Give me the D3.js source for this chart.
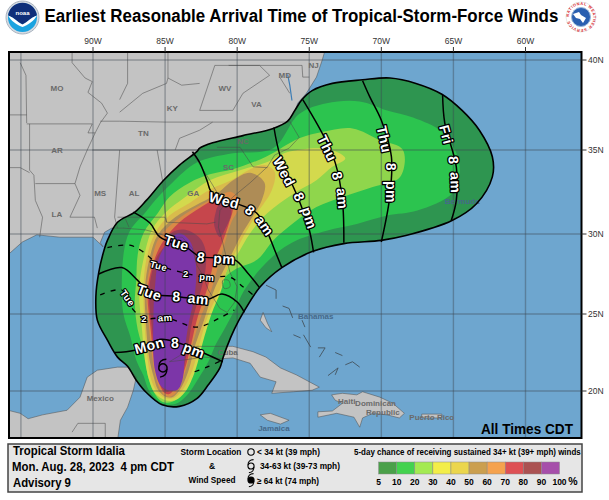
<!DOCTYPE html>
<html>
<head>
<meta charset="utf-8">
<title>Earliest Reasonable Arrival Time of Tropical-Storm-Force Winds</title>
<style>
html, body { margin: 0; padding: 0; background: #fff; }
svg { display: block; font-family: "Liberation Sans", Arial, sans-serif; }
</style>
<script src="https://cdn.jsdelivr.net/npm/d3@7/dist/d3.min.js"></script>
</head>
<body>
<script>
// values, everything is [lon, lat]
var lonGrid = [-95, -90, -85, -80, -75, -70, -65, -60];
var lonTicks = [-90, -85, -80, -75, -70, -65, -60];
var latTicks = [20, 25, 30, 35, 40];

var percentTicks = ['5', '10', '20', '30', '40', '50', '60', '70', '80', '90', '100'];
var legendColors = ['#4aa04a', '#43d24f', '#a4ea51', '#f3ee49', '#ebd64d', '#cb9f4f', '#f5a24e', '#de5054', '#ab5252', '#a64faa'];

// outer 5% edge of the swath
var swath05 = [[-82.8,34.9],[-84,34.1],[-85.1,33.2],[-86.3,32],[-87.1,31.3],[-88.3,30.7],[-89,29.6],[-89.2,29.1],[-89.6,27.6],[-89.8,26.1],[-89.7,24.6],[-89,23.3],[-88.3,22.2],[-87.6,21.6],[-87,20.7],[-86.3,19.9],[-85.2,19.1],[-84,19],[-82.8,19.5],[-82,20.4],[-81.2,21.5],[-81,22.1],[-80.7,22.9],[-80.2,24],[-79.6,25.05],[-78.4,26.7],[-76.9,27.9],[-74.8,28.9],[-72.6,29.4],[-70,29.6],[-68.3,29.9],[-65.1,30.8],[-63.4,31.8],[-62.3,33.4],[-62.3,34.6],[-63.2,36.1],[-64.4,37.2],[-65.8,38.1],[-67.6,38.7],[-69.4,39],[-71.3,38.9],[-73.4,38.7],[-74.8,38.3],[-75.5,37.8],[-76,37.2],[-76.5,36.6],[-77.5,36.2],[-79.6,35.8],[-81.7,35.4],[-82.6,35.1]];
var swath10 = [[-82.8,34.25],[-80.3,34.8],[-77.5,35.1],[-75.7,37],[-73.8,37.6],[-71.5,37.7],[-69.6,37.2],[-67.8,36.8],[-65.8,36],[-64.7,34.6],[-64.6,33.4],[-65.1,32.4],[-67.5,31.4],[-69.6,31.1],[-71.7,30.6],[-73.8,30.2],[-75.9,29.6],[-77,29],[-78.3,27.9],[-79.5,26.5],[-80.2,25.2],[-80.9,24],[-81.5,23],[-82,21.9],[-82.7,20.8],[-83.5,19.7],[-84.3,19.15],[-85.2,19.2],[-86.1,20],[-86.5,21],[-87,22],[-87.4,23.5],[-87.9,25.05],[-88,27.1],[-87.8,29.2],[-87.4,30.25],[-86.4,31.25],[-85.7,32],[-84.5,33.05]];
var swath20 = [[-83.3,33.05],[-81.9,33.55],[-80.3,33.85],[-78,34.6],[-75.7,35.65],[-74.1,36],[-72,36.2],[-70.1,35.55],[-68.5,35],[-68.7,33.4],[-70.6,32.8],[-72.7,32.2],[-74.5,31.6],[-76.1,30.65],[-77.5,29.6],[-78.6,28.4],[-80.2,27.75],[-81.2,26.95],[-81.7,25.9],[-82.2,24.3],[-82.9,22.7],[-83.1,21.35],[-83.8,19.85],[-84.5,19.3],[-85.2,19.3],[-85.8,19.95],[-86.2,21],[-86.4,22.35],[-86.9,24],[-87.1,25.7],[-87,27.1],[-86.9,28.7],[-86.5,30.05],[-85.5,31.25],[-84.7,32.2]];
var swath30 = [[-85.9,30.25],[-85,31.25],[-83.6,32.2],[-81.9,33.2],[-79.8,33.8],[-78,34.25],[-76.6,34.85],[-74.5,35.1],[-73.4,35],[-72.5,34.5],[-73.4,34],[-74.5,33.2],[-76.1,32.4],[-77.9,31.25],[-79.1,30.05],[-80,28.7],[-80.7,27.75],[-81.1,26.5],[-81.8,24.95],[-82.4,23.1],[-82.9,21.35],[-83.6,19.95],[-84.3,19.4],[-85,19.4],[-85.7,19.85],[-86.1,20.7],[-86.4,22],[-86.6,24],[-86.8,26.5],[-86.5,28.4]];
var swath40 = [[-85.7,30.05],[-84.7,31.1],[-83.3,31.85],[-81.9,32.65],[-80.3,33.25],[-79.1,33.85],[-78.1,34.1],[-77.4,33.7],[-77.6,32.6],[-78.6,31.25],[-79.5,29.95],[-80.2,28.7],[-80.7,27.75],[-81.2,26.5],[-82,24.95],[-82.6,23.1],[-83.1,21.35],[-83.8,20.05],[-84.4,19.55],[-85,19.55],[-85.6,20],[-86,20.85],[-86.2,22],[-86.4,24],[-86.5,26.5],[-86.3,28.4]];
var swath50 = [[-85.5,29.95],[-84.3,31],[-82.9,31.7],[-81.5,32.35],[-80.2,33.25],[-79.1,33.65],[-78.1,33.05],[-78.3,32],[-79.1,30.8],[-79.8,29.8],[-80.4,28.7],[-81.1,27.45],[-81.6,26.5],[-82.3,24.6],[-82.9,23],[-83.4,21.25],[-84,20.05],[-84.5,19.6],[-85,19.65],[-85.5,20.1],[-85.8,20.95],[-86.1,22.15],[-86.3,24],[-86.4,26.5],[-86.1,28.4]];
var swath60 = [[-85.4,29.8],[-84,30.95],[-82.6,31.7],[-81.3,32.25],[-80.4,32.5],[-79.8,31.75],[-80.4,30.7],[-80.9,29.3],[-81.3,28.05],[-81.8,26.5],[-82.6,24.6],[-83.1,23],[-83.6,21.25],[-84.1,20.05],[-84.6,19.65],[-85,19.7],[-85.4,20.2],[-85.7,21.1],[-85.9,22.25],[-86.1,24],[-86.3,26.5],[-85.9,28.5]];
var swath70 = [[-85.1,29.6],[-84,30.7],[-82.6,31.55],[-81.3,32.15],[-80.6,32.05],[-80.3,31.6],[-80.6,30.55],[-81.1,29.3],[-81.6,28.25],[-82,26.8],[-82.8,24.6],[-83.2,23],[-83.7,21.25],[-84.3,20.2],[-84.7,19.8],[-85,19.85],[-85.3,20.25],[-85.6,21.25],[-85.8,22.35],[-86,24],[-86.2,26.5],[-85.7,28.5]];
var swath80 = [[-85,29.3],[-84.5,30.1],[-83.6,30.25],[-82.6,29.75],[-82.2,29],[-82.2,27.75],[-82.6,26.2],[-83.1,24.6],[-83.4,23],[-83.8,21.25],[-84.4,20.35],[-84.8,19.95],[-85.2,20.2],[-85.5,21.25],[-85.7,22.35],[-85.9,24],[-86.1,26.5],[-85.6,28.5]];
var swath80Lobe = [[-81.3,31.7],[-80.6,31.85],[-80.4,31.3],[-80.8,30.35],[-81.2,29.8],[-81.6,30.55],[-81.5,31.25]];
var swath90 = [[-84,30.05],[-83.3,29.6],[-82.9,28.4],[-82.9,26.5],[-83.4,24.2],[-83.6,22.9],[-83.8,20.7],[-84.2,20.05],[-85.2,20.25],[-85.7,21.35],[-85.8,25.05],[-85.7,26.7],[-85.4,28.55],[-84.5,29.8]];

var bands = [
    {points: swath05, color: '#2e9550'},
    {points: swath10, color: '#2cc44f'},
    {points: swath20, color: '#8fd64c'},
    {points: swath30, color: '#d3d94d'},
    {points: swath40, color: '#d9bb4c'},
    {points: swath50, color: '#ae8c56'},
    {points: swath60, color: '#d98a46'},
    {points: swath70, color: '#c6464c'},
    {points: swath80, color: '#983d57'},
    {points: swath80Lobe, color: '#983d57'},
    {points: swath90, color: '#7c36a8'}
];

// arrival time lines
var solidLines = [
    [[-87.2,31.3],[-86.05,30.65],[-85.35,29.8],[-83.5,29.15],[-82.6,28.6],[-80.2,28.4],[-79.3,27.6],[-78.45,26.65]],
    [[-89.6,27.5],[-88,27.9],[-86.9,27.1],[-86.05,26.3],[-84.2,26.1],[-82.1,25.9],[-81.05,26.25],[-80,25.75],[-79.5,25.1]],
    [[-88.5,22.5],[-87.1,22.65],[-85.35,23.35],[-84,23.1],[-82.4,22.5],[-81,21.9]],
    [[-83.1,34.9],[-82.6,34.25],[-82.1,33.2],[-81.75,32.45],[-80.3,31.9],[-78.65,31.25],[-77.9,30.1],[-77.4,29],[-76.9,27.9]],
    [[-77.45,36.25],[-77,34.6],[-75.7,32],[-75,30.25],[-74.7,28.85]],
    [[-75.45,37.8],[-74.05,35.85],[-73.2,34.25],[-72.7,32],[-72.6,29.45]],
    [[-71.3,38.85],[-70.8,37.95],[-70,36.65],[-69.3,34.6],[-69.45,32],[-70,29.5]],
    [[-65.75,38.05],[-65.6,36.5],[-64.8,34],[-64.8,32],[-65.15,30.8]]
];
var dashedLines = [
    [[-89,29.15],[-87.45,29.3],[-86.55,28.9],[-85.35,28.05],[-83.6,27.55],[-82.1,27.3],[-80.5,27.3],[-79.6,26.7],[-78.9,26.2]],
    [[-89.5,26.2],[-88,26.5],[-87.6,25.75],[-86.55,24.75],[-84.9,24.75],[-82.8,24.15],[-81.2,24.75],[-80.2,25.25]],
    [[-82.95,21.25],[-82.1,21.55],[-81.05,22]]
];

var bigWords = [
    ['Tue',-84.2,29.45,18],['8',-82.5,28.55,8],['pm',-80.9,28.45,4],
    ['Tue',-86.1,26.35,20],['8',-84.2,26.1,2],['am',-82.7,25.95,6],
    ['Mon',-86.1,22.95,-15],['8',-84.3,23.1,0],['pm',-83,22.65,20],
    ['Wed',-80.9,32,15],['8',-79.1,31.4,40],['am',-78.1,30.5,55],
    ['Wed',-76.75,33.7,62],['8',-75.7,32.2,65],['pm',-75,30.95,72],
    ['Thu',-73.75,35.1,65],['8',-73.05,33.45,75],['am',-72.7,32.1,85],
    ['Thu',-69.8,35.6,78],['8',-69.35,34,90],['pm',-69.35,32.5,90],
    ['Fri',-65.5,35.85,75],['8',-65,34.4,85],['am',-64.85,33.05,88]
];
var smallWords = [
    ['Tue',-85.45,28,15],['2',-83.55,27.5,0],['pm',-82.1,27.3,5],
    ['Tue',-87.6,26,55],['2',-86.45,24.7,0],['am',-85,24.75,-3]
];

var stormCenter = [-85.15, 21.5];

// land
var usLand = [[-73.9,40.55],[-74.1,40],[-74.5,39.05],[-75.2,38.15],[-75.8,37.6],[-76,37.1],[-76.4,36.65],[-75.7,35.7],[-76.4,35.1],[-77.4,34.7],[-77.9,34],[-79.1,33.05],[-80.3,32.2],[-81.2,31.4],[-81.3,30.4],[-81,29.45],[-80.5,27.6],[-80,26.7],[-80.2,25.7],[-80.7,25.1],[-81.2,25.35],[-82,26.5],[-82.4,27.45],[-82.8,28.05],[-83.1,29.1],[-83.8,29.8],[-84.7,29.8],[-85.7,30.1],[-86.4,30.25],[-87.9,30.35],[-88.7,30.35],[-89.2,30.1],[-89.5,29.45],[-89.3,29.2],[-90,29.8],[-92.3,29.8],[-93.9,29.95],[-94.9,29.5],[-95.9,28.7],[-97,27.5],[-97,40.6]];
var mexico = [[-97,18.7],[-95.9,18.75],[-95.05,18.55],[-94.5,18.2],[-93.5,18.45],[-91.8,18.75],[-90.9,19.6],[-90.4,20.9],[-89.7,21.35],[-88.3,21.55],[-87.6,21.55],[-87,20.9],[-87.2,20.05],[-87.6,18.95],[-88.1,18.1],[-88.3,16.8],[-97,16.8]];
var cuba = [[-84.7,21.9],[-83.8,22.4],[-82.8,22.9],[-81,22.9],[-80.3,22.9],[-78.9,22.55],[-78,22.2],[-77,21.5],[-75.9,21.05],[-74.3,20.25],[-74.8,20.05],[-76.1,19.95],[-77.6,19.85],[-77.3,20.6],[-78.4,20.9],[-79.1,21.8],[-80.3,22.15],[-81,22.1],[-82.3,22.2],[-83.8,22]];
var hispaniola = [[-73.45,19.75],[-72.7,19.85],[-71.7,19.75],[-71.3,19.95],[-70.1,19.6],[-69.2,19.2],[-68.4,18.55],[-68.75,18.25],[-69.6,18.45],[-70.6,18.55],[-71.3,18.25],[-71.5,17.65],[-71.9,18.3],[-73.1,18.55],[-74.4,18.3],[-74.4,18.65],[-73.4,18.7],[-72.7,19.2],[-73.2,19.4]];
var jamaica = [[-78.4,18.45],[-77.7,18.55],[-76.4,18.1],[-77,17.85],[-77.9,18.1]];
var puertoRico = [[-67.2,18.5],[-65.8,18.5],[-65.8,18.25],[-67.2,18.25]];
var andros = [[-78.2,25.1],[-77.9,24.4],[-77.6,23.85],[-78,24.1],[-78.4,24.6]];
var landShapes = [usLand, mexico, cuba, hispaniola, jamaica, puertoRico, andros];

var stateBorders = [
    [[-95.05,39.85],[-94.65,39.15],[-94.6,36.5]],
    [[-95.8,36.95],[-94.6,36.95]],
    [[-94.6,36.45],[-90.05,36.45],[-90.35,35.95],[-89.85,35.95]],
    [[-91.45,40.4],[-91.45,39.85],[-90.55,39],[-90.05,38.8],[-90.35,38.2],[-89.4,37.6],[-89,37.05],[-89.5,36.5],[-89.85,35.95],[-90.4,35],[-90.9,34],[-91.25,33],[-90.9,32.3],[-91.6,31]],
    [[-94,33],[-91.25,33]],
    [[-91.6,31],[-89.9,31],[-89.7,30.35]],
    [[-94.4,36.45],[-94.4,33.8],[-94.1,33.5],[-94,32],[-93.5,31],[-93.7,29.8]],
    [[-95.8,33.95],[-95.05,33.95],[-94.4,33.65]],
    [[-88.15,35],[-88.5,31],[-88.3,30.35]],
    [[-90.05,35],[-82.7,35]],
    [[-89.5,36.6],[-88.15,36.6],[-84.9,36.55],[-83.8,36.55],[-81.7,36.55],[-76.4,36.55]],
    [[-85.55,35],[-85.15,33.05],[-85,31.4],[-84.9,30.7]],
    [[-88.3,31],[-87.8,31],[-87.5,30.4]],
    [[-87.8,31],[-85,31],[-84.9,30.7],[-82.1,30.6],[-81.5,30.7]],
    [[-83.15,34.9],[-81.9,33.2],[-81,31.9]],
    [[-81.4,35.15],[-79.8,35.15],[-78.9,34],[-77.9,33.95]],
    [[-88.15,37.1],[-86.55,38.15],[-84.9,38.7],[-84.8,39],[-83.85,38.6],[-82.6,38.7]],
    [[-87.6,40.4],[-87.6,38.7],[-88.15,37.8]],
    [[-84.8,40.4],[-84.8,39]],
    [[-84.3,35],[-84,35.65],[-82.6,36.1],[-81.7,36.55]],
    [[-82.6,37.2],[-81.55,39.7],[-80.6,39.7],[-78.45,39.7],[-77.75,39.15],[-79.6,38.15],[-80.3,37.2],[-82.6,37.2]],
    [[-80.6,39.7],[-75.85,39.7],[-75.5,39.7],[-75.45,39.05],[-75,39.05]],
    [[-77.05,39.05],[-76.35,38.15]],
    [[-91.45,17.33],[-91.05,17.9],[-89.15,17.9],[-89.15,16.8]]
];
var lake = [[-81,27.1],[-80.6,27.1],[-80.5,26.7],[-80.9,26.6]];
var bahamaStrings = [
    [[-78,26.8],[-77.3,26.5],[-77.3,25.95]],
    [[-76.85,25.5],[-76.4,25.35],[-76.15,24.75]],
    [[-75.5,24.6],[-75.3,24.15]],
    [[-76.1,23.65],[-75.6,23.45]],
    [[-75.4,23.65],[-74.9,22.85]],
    [[-74.4,22.8],[-73.9,22.8],[-74.3,22.2]],
    [[-73.2,22.5],[-72.7,22.3]],
    [[-73.7,21],[-73,21.5],[-73.2,21.05]],
    [[-72.5,21.7],[-72,21.9],[-71.5,21.55]]
];
var chesapeake = [[-76.5,39.2],[-76.35,38.6],[-76.2,37.75]];

var stateNames = [['MO',-92.5,38.45],['AR',-92.5,35],['KY',-84.5,37.3],['TN',-86.5,35.95],['MS',-89.5,32.4],['AL',-87.15,32.4],['LA',-92.5,31.2],['GA',-83.05,32.45],['SC',-80.6,34],['NC',-79.6,35.5],['VA',-78.65,37.55],['WV',-80.85,38.45],['NJ',-74.7,39.7],['MD',-76.7,39.15],['Mexico',-89.5,19.55],['Cuba',-80.65,22.55],['Haiti',-72.4,19.35],['Dominican',-70.4,19.2],['Republic',-69.9,18.65],['Puerto Rico',-66.5,18.3]];
var seaNames = [['Bahamas',-74.55,24.85],['Jamaica',-77.45,17.6],['Bermuda',-64.4,31.95]];

var width = 609, height = 500;
var map = {left: 9, right: 581.5, top: 52, bottom: 438};

var x = d3.scaleLinear().domain([-90, -60]).range([93, 525.5]);
var y = d3.scaleLinear().domain(latTicks).range([391, 314, 234, 150, 60]);

var svg = d3.select('body').append('svg')
    .attr('width', width)
    .attr('height', height);

function project(p) {
    return [x(p[0]), y(p[1])];
}
var closedLine = d3.line().curve(d3.curveCatmullRomClosed.alpha(0.5));
var openLine = d3.line().curve(d3.curveCatmullRom.alpha(0.5));
var straight = d3.line();
function closedPath(points) { return closedLine(points.map(project)); }
function openPath(points) { return openLine(points.map(project)); }
function landPath(points) { return straight(points.map(project)) + 'Z'; }
function straightPath(points) { return straight(points.map(project)); }

svg.append('clipPath').attr('id', 'mapClip').append('rect')
    .attr('x', map.left).attr('y', map.top)
    .attr('width', map.right - map.left).attr('height', map.bottom - map.top);

var mapGroup = svg.append('g').attr('clip-path', 'url(#mapClip)');

mapGroup.append('rect')
    .attr('x', map.left).attr('y', map.top)
    .attr('width', map.right - map.left).attr('height', map.bottom - map.top)
    .attr('fill', '#6ea6cf');

mapGroup.selectAll('.land').data(landShapes).enter().append('path')
    .attr('class', 'land')
    .attr('d', landPath)
    .attr('fill', '#c3c3c3');

mapGroup.selectAll('.band').data(bands).enter().append('path')
    .attr('class', 'band')
    .attr('d', function(d) { return closedPath(d.points); })
    .attr('fill', function(d) { return d.color; });

// the outlines sit over the swath, it is see-through in the original
mapGroup.selectAll('.coast').data(landShapes).enter().append('path')
    .attr('class', 'coast')
    .attr('d', landPath)
    .attr('fill', 'none')
    .attr('stroke', '#4a4a4a')
    .attr('stroke-opacity', 0.7)
    .attr('stroke-width', 0.7);

mapGroup.selectAll('.border').data(stateBorders).enter().append('path')
    .attr('class', 'border')
    .attr('d', straightPath)
    .attr('fill', 'none')
    .attr('stroke', '#4a4a4a')
    .attr('stroke-opacity', 0.75)
    .attr('stroke-width', 0.7);

mapGroup.selectAll('.island').data(bahamaStrings).enter().append('path')
    .attr('class', 'island')
    .attr('d', straightPath)
    .attr('fill', 'none')
    .attr('stroke', '#44525e')
    .attr('stroke-width', 0.9);

mapGroup.append('path')
    .attr('d', closedPath(lake))
    .attr('fill', 'none')
    .attr('stroke', '#3f6b45')
    .attr('stroke-width', 0.7);

mapGroup.append('path')
    .attr('d', straightPath(chesapeake))
    .attr('fill', 'none')
    .attr('stroke', '#3c7db5')
    .attr('stroke-width', 1.2);

mapGroup.selectAll('.gridLon').data(lonGrid).enter().append('line')
    .attr('class', 'gridLon')
    .attr('x1', x).attr('x2', x)
    .attr('y1', map.top).attr('y2', map.bottom)
    .attr('stroke', '#3b4650')
    .attr('stroke-opacity', 0.4)
    .attr('stroke-width', 1.4);

mapGroup.selectAll('.gridLat').data(latTicks).enter().append('line')
    .attr('class', 'gridLat')
    .attr('x1', map.left).attr('x2', map.right)
    .attr('y1', y).attr('y2', y)
    .attr('stroke', '#3b4650')
    .attr('stroke-opacity', 0.4)
    .attr('stroke-width', 1.4);

function placeNames(names, color) {
    mapGroup.selectAll(null).data(names).enter().append('text')
        .attr('x', function(d) { return x(d[1]); })
        .attr('y', function(d) { return y(d[2]); })
        .attr('dy', '0.35em')
        .attr('text-anchor', 'middle')
        .attr('font-size', 8)
        .attr('font-weight', 'bold')
        .attr('fill', color)
        .text(function(d) { return d[0]; });
}
placeNames(stateNames, '#6a6a6a');
placeNames(seaNames, '#46698a');

mapGroup.append('path')
    .attr('d', closedPath(swath05))
    .attr('fill', 'none')
    .attr('stroke', '#000')
    .attr('stroke-width', 1.6);

mapGroup.selectAll('.timeLine').data(solidLines).enter().append('path')
    .attr('class', 'timeLine')
    .attr('d', openPath)
    .attr('fill', 'none')
    .attr('stroke', '#000')
    .attr('stroke-width', 1.5);

mapGroup.selectAll('.timeDash').data(dashedLines).enter().append('path')
    .attr('class', 'timeDash')
    .attr('d', openPath)
    .attr('fill', 'none')
    .attr('stroke', '#000')
    .attr('stroke-width', 1.3)
    .attr('stroke-dasharray', '5,6');

// white letters with a black rim
function timeWords(words, size, rim) {
    mapGroup.selectAll(null).data(words).enter().append('text')
        .attr('transform', function(d) {
            return 'translate(' + x(d[1]) + ',' + y(d[2]) + ') rotate(' + d[3] + ')';
        })
        .attr('dy', '0.35em')
        .attr('text-anchor', 'middle')
        .attr('font-size', size)
        .attr('font-weight', 'bold')
        .attr('letter-spacing', 0.5)
        .attr('fill', '#fff')
        .attr('stroke', '#000')
        .attr('stroke-width', rim)
        .attr('stroke-linejoin', 'round')
        .attr('paint-order', 'stroke')
        .text(function(d) { return d[0]; });
}
timeWords(bigWords, 14, 2.6);
timeWords(smallWords, 9.5, 2.2);

// storm symbol
function stormGlyph(parent, cx, cy, filled, scale) {
    var g = parent.append('g').attr('transform', 'translate(' + cx + ',' + cy + ') scale(' + scale + ')');
    g.append('circle').attr('r', 3.6)
        .attr('fill', filled ? '#000' : 'none')
        .attr('stroke', '#000').attr('stroke-width', 1.3);
    g.append('path')
        .attr('d', 'M-3.4,-1 C-4,-5 -1,-7.5 3,-7.5 M3.4,1 C3.6,5 1.5,7.5 -2.5,8')
        .attr('fill', 'none')
        .attr('stroke', '#000').attr('stroke-width', 1.2);
}
stormGlyph(mapGroup, x(stormCenter[0]), y(stormCenter[1]), false, 1.15);

svg.append('rect')
    .attr('x', map.left).attr('y', map.top)
    .attr('width', map.right - map.left).attr('height', map.bottom - map.top)
    .attr('fill', 'none')
    .attr('stroke', '#000')
    .attr('stroke-width', 2);

svg.selectAll('.tickLon').data(lonTicks).enter().append('line')
    .attr('class', 'tickLon')
    .attr('x1', x).attr('x2', x)
    .attr('y1', map.top - 5).attr('y2', map.top)
    .attr('stroke', '#333');
svg.selectAll('.tickLat').data(latTicks).enter().append('line')
    .attr('class', 'tickLat')
    .attr('x1', map.right).attr('x2', map.right + 5)
    .attr('y1', y).attr('y2', y)
    .attr('stroke', '#333');

svg.selectAll('.lonLabel').data(lonTicks).enter().append('text')
    .attr('class', 'lonLabel')
    .attr('x', x)
    .attr('y', 44)
    .attr('text-anchor', 'middle')
    .attr('font-size', 8.5)
    .attr('fill', '#333')
    .text(function(d) { return (-d) + 'W'; });
svg.selectAll('.latLabel').data(latTicks).enter().append('text')
    .attr('class', 'latLabel')
    .attr('x', 588)
    .attr('y', y)
    .attr('dy', '0.35em')
    .attr('font-size', 8.5)
    .attr('fill', '#333')
    .text(function(d) { return d + 'N'; });

// squeezes the text to a measured width, the original type is narrow
function label(str, tx, ty, size, w, anchor) {
    var t = svg.append('text')
        .attr('font-size', size)
        .attr('font-weight', 'bold')
        .attr('text-anchor', anchor || 'start')
        .attr('fill', '#000')
        .style('white-space', 'pre')
        .text(str);
    var sx = w ? w / t.node().getComputedTextLength() : 1;
    t.attr('transform', 'translate(' + tx + ',' + ty + ') scale(' + sx + ',1)');
    return t;
}

label('Earliest Reasonable Arrival Time of Tropical-Storm-Force Winds', 44.5, 21.5, 18.5, 514);
label('All Times CDT', 481, 434, 14, 92);

// bottom panel
svg.append('rect')
    .attr('x', 8).attr('y', 444)
    .attr('width', 574).attr('height', 48)
    .attr('fill', '#e6e6e6')
    .attr('stroke', '#444')
    .attr('stroke-width', 1.5);

label('Tropical Storm Idalia', 13, 455, 12, 112);
label('Mon. Aug. 28, 2023  4 pm CDT', 12, 471, 12, 162);
label('Advisory 9', 13, 487, 12, 58);

label('Storm Location', 211, 455, 8.5, 61, 'middle');
label('&', 212, 469, 8.5, null, 'middle');
label('Wind Speed', 212, 483, 8.5, 47, 'middle');

label('< 34 kt (39 mph)', 257, 454.5, 8.5, 63);
label('34-63 kt (39-73 mph)', 260, 469, 8.5, 80);
label('\u2265 64 kt (74 mph)', 257, 484, 8.5, 62);

svg.append('circle').attr('cx', 251).attr('cy', 452).attr('r', 3.2)
    .attr('fill', 'none').attr('stroke', '#000').attr('stroke-width', 1.1);
stormGlyph(svg, 251, 466, false, 0.85);
stormGlyph(svg, 251, 480, true, 0.85);

label('5-day chance of receiving sustained 34+ kt (39+ mph) winds', 354, 455, 8.5, 227);

var legendX = d3.scalePoint().domain(percentTicks).range([378.6, 559.5]);
svg.selectAll('.swatch').data(legendColors).enter().append('rect')
    .attr('class', 'swatch')
    .attr('x', function(d, i) { return legendX(percentTicks[i]); })
    .attr('y', 462)
    .attr('width', legendX.step())
    .attr('height', 12)
    .attr('fill', function(d) { return d; })
    .attr('stroke', '#8a8a8a')
    .attr('stroke-width', 0.5);
svg.selectAll('.legendTick').data(percentTicks).enter().append('text')
    .attr('class', 'legendTick')
    .attr('x', function(d) { return legendX(d); })
    .attr('y', 484.5)
    .attr('text-anchor', 'middle')
    .attr('font-size', 8.5)
    .attr('font-weight', 'bold')
    .text(function(d) { return d; });
label('%', 573, 485, 10.5, null, 'middle');

// NOAA logo
var noaa = svg.append('g').attr('transform', 'translate(22.5,17.5)');
noaa.append('circle').attr('r', 16.5).attr('fill', '#d6dbe2').attr('stroke', '#aab4c0');
noaa.append('circle').attr('r', 14.5).attr('fill', '#1aa3e0');
noaa.append('path')
    .attr('d', 'M-14.4,-2 A14.5,14.5 0 0 1 14.4,-2 C8,0 5,5 0,7 C-5,5 -8,0 -14.4,-2 Z')
    .attr('fill', '#0f2f7a');
noaa.append('path')
    .attr('d', 'M-14.4,-2 C-8,0 -5,5 0,7 C5,5 8,0 14.4,-2 C12,3 5,8 0,9.5 C-5,8 -12,3 -14.4,-2 Z')
    .attr('fill', '#fff');
noaa.append('text')
    .attr('y', -3)
    .attr('text-anchor', 'middle')
    .attr('font-size', 6)
    .attr('font-weight', 'bold')
    .attr('fill', '#fff')
    .text('noaa');

// NWS logo
var nws = svg.append('g').attr('transform', 'translate(581,17)');
nws.append('circle').attr('r', 15).attr('fill', '#fff').attr('stroke', '#e8e8e8');
nws.append('path').attr('id', 'nwsRing').attr('fill', 'none')
    .attr('d', 'M-12.2,0 A12.2,12.2 0 1 1 12.2,0 A12.2,12.2 0 1 1 -12.2,0');
nws.append('text')
    .attr('font-size', 3.9)
    .attr('font-weight', 'bold')
    .attr('letter-spacing', 0.6)
    .attr('fill', '#d8232a')
    .append('textPath')
    .attr('href', '#nwsRing')
    .text('NATIONAL WEATHER SERVICE');
nws.append('circle').attr('r', 9.5).attr('fill', '#2a5fb0').attr('stroke', '#9bb7d9');
nws.append('path')
    .attr('d', 'M-8,-3 L-2,-5 L0,-2 L5,1 L2,6 L-1,2 L-5,1 Z')
    .attr('fill', '#fff');
</script>
</body>
</html>
